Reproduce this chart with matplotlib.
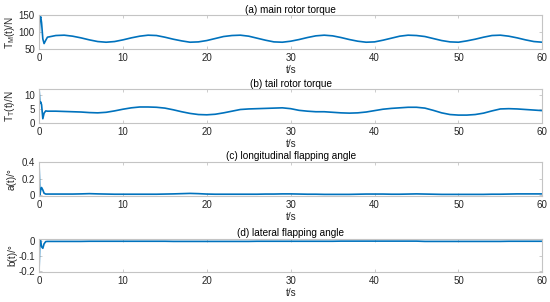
import matplotlib
matplotlib.use('Agg')
import matplotlib.pyplot as plt
import numpy as np

plt.rcParams['font.family'] = ['Liberation Sans', 'DejaVu Sans']
plt.rcParams['mathtext.default'] = 'regular'

""" time axis: a short start-up transient, then one sample per second """
t_start = [0.0, 0.1, 0.2, 0.3, 0.45, 0.6, 0.8]
t_steady = list(range(1, 61))
t = t_start + t_steady

# (a) main rotor torque, N
tm_start = [80, 140, 146, 128, 80, 66, 76]
tm_steady = [85, 90, 91, 88, 83, 77, 72, 70, 72, 77,
             83, 88, 91, 90, 85, 79, 74, 70, 71, 75,
             81, 87, 90, 91, 88, 82, 76, 71, 70, 73,
             78, 84, 89, 91, 89, 84, 78, 73, 70, 71,
             76, 82, 88, 91, 90, 87, 81, 75, 71, 70,
             74, 79, 85, 90, 91, 88, 83, 77, 72, 70]

# (b) tail rotor torque, N
tt_start = [12.5, 7.0, 7.5, 6.5, 1.5, 3.5, 4.3]
tt_steady = [4.2, 4.2, 4.1, 4.0, 3.9, 3.7, 3.6, 3.8, 4.3, 4.9,
             5.4, 5.7, 5.7, 5.6, 5.3, 4.7, 4.0, 3.4, 3.0, 2.9,
             3.1, 3.6, 4.2, 4.8, 5.0, 5.1, 5.2, 5.3, 5.4, 5.1,
             4.5, 4.2, 4.0, 4.0, 3.8, 3.6, 3.5, 3.6, 3.9, 4.4,
             4.9, 5.2, 5.4, 5.6, 5.6, 5.3, 4.5, 3.6, 3.0, 2.8,
             2.8, 3.0, 3.5, 4.3, 5.0, 5.1, 5.0, 4.8, 4.6, 4.4]

# (c) longitudinal flapping angle, deg
a_start = [0.40, 0.00, 0.06, 0.09, 0.06, 0.02, 0.01]
a_steady = [0.010, 0.010, 0.010, 0.010, 0.012, 0.015, 0.012, 0.010, 0.008, 0.008,
            0.008, 0.008, 0.008, 0.008, 0.010, 0.012, 0.015, 0.018, 0.015, 0.010,
            0.008, 0.008, 0.008, 0.008, 0.008, 0.008, 0.010, 0.010, 0.012, 0.012,
            0.010, 0.008, 0.008, 0.006, 0.006, 0.006, 0.006, 0.008, 0.010, 0.010,
            0.010, 0.008, 0.008, 0.010, 0.012, 0.010, 0.008, 0.006, 0.006, 0.006,
            0.006, 0.006, 0.006, 0.008, 0.008, 0.010, 0.012, 0.012, 0.012, 0.012]

# (d) lateral flapping angle, deg
b_start = [-0.21, 0.02, 0.00, -0.04, -0.05, -0.02, -0.005]
b_steady = [-0.004] * 5 + [-0.003] * 10 + [-0.004] * 10 + [-0.003] * 10 \
    + [-0.002] * 10 + [-0.004] * 10 + [-0.003] * 5

panels = [
    ('(a) main rotor torque', 'T$_M$(t)/N', tm_start + tm_steady, (50, 150), [50, 100, 150], ['50', '100', '150']),
    ('(b) tail rotor torque', 'T$_T$(t)/N', tt_start + tt_steady, (0, 12), [0, 5, 10], ['0', '5', '10']),
    ('(c) longitudinal flapping angle', 'a(t)/°', a_start + a_steady, (-0.01, 0.4), [0, 0.2, 0.4], ['0', '0.2', '0.4']),
    ('(d) lateral flapping angle', 'b(t)/°', b_start + b_steady, (-0.21, 0.015), [-0.2, -0.1, 0], ['-0.2', '-0.1', '0']),
]

fig = plt.figure(figsize=(5.5, 3.02), dpi=100)
bottoms = [0.838, 0.593, 0.352, 0.099]
height = 0.111
grey = '#c4c4c4'
txt = '#262626'

for (title, ylab, y, ylim, yt, ytl), b in zip(panels, bottoms):
    ax = fig.add_axes([0.071, b, 0.915, height])
    ax.plot(t, y, color='#0072BD', lw=1.2, clip_on=True)
    ax.set_xlim(0, 60)
    ax.set_ylim(*ylim)
    ax.set_xticks(np.arange(0, 61, 10))
    ax.set_yticks(yt)
    ax.set_yticklabels(ytl)
    for s in ax.spines.values():
        s.set_color(grey)
        s.set_linewidth(0.8)
    ax.tick_params(direction='in', length=2.5, width=0.6, color=grey,
                   labelcolor=txt, labelsize=7, pad=3,
                   top=True, right=True)
    ax.set_title(title, fontsize=7.2, color='black', pad=2)
    ax.set_xlabel('t/s', fontsize=7.2, color=txt, labelpad=1.5)
    ax.set_ylabel(ylab, fontsize=7.2, color=txt)
    ax.yaxis.set_label_coords(-0.044, 0.5)

fig.savefig('out.png', dpi=100)
